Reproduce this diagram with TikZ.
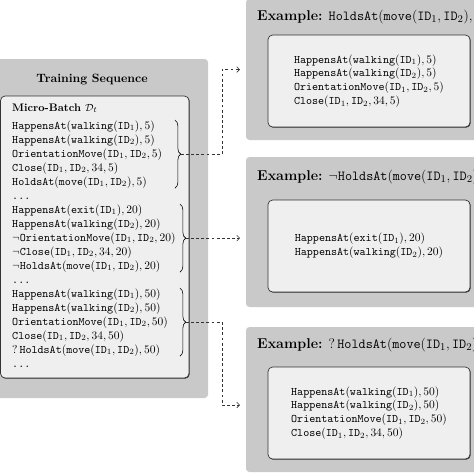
\documentclass[tikz,border=0pt]{standalone}
\usetikzlibrary{decorations.pathreplacing,shadows,arrows.meta}
\definecolor{panelgray}{HTML}{C9C9C9}
\definecolor{cardfill}{HTML}{EFEFEF}
\definecolor{cardline}{HTML}{333333}
\newcommand{\id}[1]{\mathtt{ID}_{#1}}
\newcommand{\tn}[1]{\mathtt{#1}}
\tikzset{
  panel/.style={fill=panelgray, rounded corners=3pt},
  card/.style={fill=cardfill, draw=cardline, line width=0.6pt, rounded corners=4pt,
    drop shadow={shadow xshift=0.6pt, shadow yshift=-0.6pt, fill=black!80, opacity=1}},
  grp/.style={decorate, decoration={brace, amplitude=5pt}, line width=0.5pt},
  link/.style={-{Straight Barb[length=2.5pt,width=5pt]}, dash pattern=on 2.5pt off 2pt,
    line width=0.5pt, black!80},
  head/.style={anchor=base west, inner sep=0pt, font=\fontsize{12.4}{15}\selectfont},
  body/.style={align=left},
}
\begin{document}
\begin{tikzpicture}[x=0.87pt, y=-0.87pt]
    \useasboundingbox (0,0) rectangle (474,474);
    \clip (0,0) rectangle (474,474);
    % training sequence
    \fill[panel] (-20,59) rectangle (208,398);
    \node[anchor=base, inner sep=0pt, font=\fontsize{10.5}{13}\selectfont\bfseries] (train) at (92,82) {Training Sequence};
    \path[card] (0.5,96) rectangle (189,378);
    \node[anchor=base west, inner sep=0pt, font=\fontsize{9.5}{11}\selectfont\bfseries] (mb) at (12,111) {Micro-Batch $\mathcal{D}_t$};
    \foreach \t [count=\k from 0] in {
        {$\tn{HappensAt}(\tn{walking}(\id1),5)$},
        {$\tn{HappensAt}(\tn{walking}(\id2),5)$},
        {$\tn{OrientationMove}(\id1,\id2,5)$},
        {$\tn{Close}(\id1,\id2,34,5)$},
        {$\tn{HoldsAt}(\tn{move}(\id1,\id2),5)$},
        {\texttt{...}},
        {$\tn{HappensAt}(\tn{exit}(\id1),20)$},
        {$\tn{HappensAt}(\tn{walking}(\id2),20)$},
        {$\neg\tn{OrientationMove}(\id1,\id2,20)$},
        {$\neg\tn{Close}(\id1,\id2,34,20)$},
        {$\neg\tn{HoldsAt}(\tn{move}(\id1,\id2),20)$},
        {\texttt{...}},
        {$\tn{HappensAt}(\tn{walking}(\id1),50)$},
        {$\tn{HappensAt}(\tn{walking}(\id2),50)$},
        {$\tn{OrientationMove}(\id1,\id2,50)$},
        {$\tn{Close}(\id1,\id2,34,50)$},
        {$?\,\tn{HoldsAt}(\tn{move}(\id1,\id2),50)$},
        {\texttt{...}}} {
        \node[anchor=base west, inner sep=0pt] (l\k) at (12,129+14*\k) {\t};
      }
    % braces
    \coordinate (b1) at (175,0);
    \coordinate (b2) at (180,0);
    \draw[grp] (b1 |- l0.north) -- (b1 |- l4.south) node[midway, right=5pt, coordinate] (t1) {};
    \draw[grp] (b2 |- l6.north) -- (b2 |- l10.south) node[midway, right=5pt, coordinate] (t2) {};
    \draw[grp] (b2 |- l12.north) -- (b2 |- l16.south) node[midway, right=5pt, coordinate] (t3) {};
    \coordinate (jn) at (222,0);
    % examples
    \fill[panel] (246,-1) rectangle (500,140);
    \fill[panel] (246,157) rectangle (500,307);
    \fill[panel] (246,327) rectangle (500,472);
    \coordinate (ex1) at (240,69.5);
    \coordinate (ex3) at (240,405);
    \node[head] (h1) at (257,20)
      {\textbf{Example:} $\tn{HoldsAt}(\tn{move}(\id1,\id2),5)$};
    \node[head] (h2) at (257,180)
      {\textbf{Example:} $\neg\tn{HoldsAt}(\tn{move}(\id1,\id2),20)$};
    \node[head] (h3) at (257,348)
      {\textbf{Example:} $?\,\tn{HoldsAt}(\tn{move}(\id1,\id2),50)$};
    \path[card] (268,35) rectangle (470,127);
    \path[card] (268,200) rectangle (470,292);
    \path[card] (268,367) rectangle (470,459);
    \node[body] (r1) at (369,81) {
      $\tn{HappensAt}(\tn{walking}(\id1),5)$\\
      $\tn{HappensAt}(\tn{walking}(\id2),5)$\\
      $\tn{OrientationMove}(\id1,\id2,5)$\\
      $\tn{Close}(\id1,\id2,34,5)$};
    \node[body] (r2) at (369,246) {
      $\tn{HappensAt}(\tn{exit}(\id1),20)$\\
      $\tn{HappensAt}(\tn{walking}(\id2),20)$};
    \node[body] (r3) at (369,413) {
      $\tn{HappensAt}(\tn{walking}(\id1),50)$\\
      $\tn{HappensAt}(\tn{walking}(\id2),50)$\\
      $\tn{OrientationMove}(\id1,\id2,50)$\\
      $\tn{Close}(\id1,\id2,34,50)$};
    % links
    \draw[link] (t1) -- (t1 -| jn) |- (ex1);
    \draw[link] (t2) -- (t2 -| ex1);
    \draw[link] (t3) -- (t3 -| jn) |- (ex3);
  \end{tikzpicture}
\end{document}
